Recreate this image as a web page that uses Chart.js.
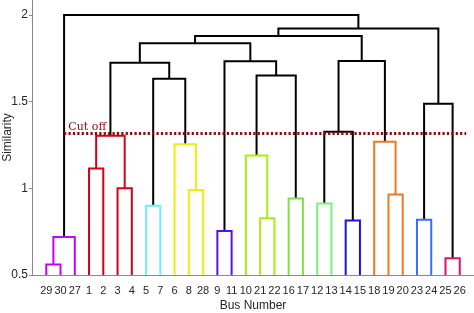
<!DOCTYPE html>
<html>
<head>
<meta charset="utf-8">
<script src="https://cdn.jsdelivr.net/npm/chart.js@4.4.1/dist/chart.umd.min.js"></script>
<style>
  body { margin: 0; background: #fff; }
  #wrap { width: 474px; height: 313px; position: relative; }
</style>
</head>
<body>
<div id="wrap"><canvas id="myChart"></canvas></div>
<script>
//================================data========================================
// leaf order along the x axis (bus numbers)
const busOrder = [29, 30, 27, 1, 2, 3, 4, 5, 7, 6, 8, 28, 9, 11, 10, 21, 22, 16, 17, 12, 13, 14, 15, 18, 19, 20, 23, 24, 25, 26];

// linkage rows: ids 1-30 are buses, id 31 is row 0, id 32 is row 1 ...
const mergeLeft   = [29, 31,    1,    3,  33,   5,    8,     6,  36,   35,   9,   21,  10,   16,  43,   41,  40,   12,   14,  48,   19,  18,   50,  47,   23,   25,  55,   54,  32];
const mergeRight  = [30, 27,    2,    4,  34,   7,   28,    37,  38,   39,  11,   22,  42,   17,  44,   45,  46,   13,   15,  49,   20,  51,   52,  53,   24,   26,  56,   57,  58];
const mergeHeight = [0.56, 0.72, 1.115, 1.0, 1.303, 0.9, 0.99, 1.254, 1.632, 1.725, 0.754, 0.827, 1.19, 0.942, 1.652, 1.733, 1.837, 0.913, 0.815, 1.326, 0.965, 1.269, 1.735, 1.879, 0.819, 0.596, 1.488, 1.922, 2.0];

const cutoff = 1.316;
const cutoffFrom = 2.25;
const cutoffTo = 30.45;
const cutoffText = 'Cut off';

const yTicks = [0.5, 1, 1.5, 2];
const yMin = 0.5;
const yMax = 2.087;

// cluster colours, left to right
const clusterColors = ['#c400ff', '#d3001a', '#70f0f0', '#eeee10', '#5a10e8', '#a8ee10', '#80e040', '#80ee80', '#1a10ee', '#ee7a20', '#3c6cff', '#e0106e'];

//================================tree========================================
const nLeaf = busOrder.length;
const parent = {};
mergeLeft.forEach((a, i) => { parent[a] = nLeaf + 1 + i; parent[mergeRight[i]] = nLeaf + 1 + i; });

function nodeX(id) {
    if (id <= nLeaf) return busOrder.indexOf(id) + 1;
    let r = id - nLeaf - 1;
    return (nodeX(mergeLeft[r]) + nodeX(mergeRight[r])) / 2;
}
function nodeH(id) {
    if (id <= nLeaf) return yMin;
    return mergeHeight[id - nLeaf - 1];
}

// cluster roots: below cutoff, parent above it
let roots = [];
for (let r = 0; r < mergeHeight.length; r++) {
    let id = nLeaf + 1 + r;
    if (mergeHeight[r] < cutoff && (!parent[id] || nodeH(parent[id]) >= cutoff)) roots.push(id);
}
roots.sort((a, b) => nodeX(a) - nodeX(b));

function linkColor(r) {
    if (mergeHeight[r] >= cutoff) return '#000000';
    let id = nLeaf + 1 + r;
    while (parent[id] && nodeH(parent[id]) < cutoff) id = parent[id];
    return clusterColors[roots.indexOf(id)];
}

let datasets = [{
    data: [{x: cutoffFrom, y: cutoff}, {x: cutoffTo, y: cutoff}],
    borderColor: '#8b0a0a',
    borderWidth: 3,
    borderDash: [2.2, 2.2],
    pointRadius: 0
}];

for (let r = 0; r < mergeHeight.length; r++) {
    let a = mergeLeft[r], b = mergeRight[r], h = mergeHeight[r];
    datasets.push({
        data: [
            {x: nodeX(a), y: nodeH(a)},
            {x: nodeX(a), y: h},
            {x: nodeX(b), y: h},
            {x: nodeX(b), y: nodeH(b)}
        ],
        borderColor: linkColor(r),
        borderWidth: 2,
        pointRadius: 0,
        tension: 0
    });
}

//================================chart========================================
const cutLabel = {
    id: 'cutLabel',
    afterDatasetsDraw(chart) {
        const c = chart.ctx;
        c.save();
        c.font = '11px "DejaVu Serif"';
        c.fillStyle = '#8b0a0a';
        c.textAlign = 'left';
        c.textBaseline = 'alphabetic';
        c.fillText(cutoffText, chart.scales.x.getPixelForValue(2.55), chart.scales.y.getPixelForValue(cutoff) - 4);
        c.restore();
    }
};

const ctx = document.getElementById('myChart');
new Chart(ctx, {
    type: 'line',
    data: { datasets: datasets },
    options: {
        responsive: true,
        maintainAspectRatio: false,
        animation: false,
        layout: { padding: 0 },
        plugins: { legend: { display: false }, tooltip: { enabled: false } },
        scales: {
            x: {
                type: 'linear',
                min: 0,
                max: nLeaf + 1,
                afterBuildTicks: (s) => { s.ticks = busOrder.map((b, i) => ({value: i + 1})); },
                afterFit: (s) => { s.height = 38; s.paddingLeft = 0; s.paddingRight = 0; },
                ticks: {
                    autoSkip: false,
                    maxRotation: 0,
                    padding: 1,
                    color: '#262626',
                    font: { family: 'Liberation Sans', size: 11 },
                    callback: (v) => String(busOrder[v - 1])
                },
                grid: { display: false },
                border: { display: true, color: '#8a8a8a', width: 1 },
                title: {
                    display: true,
                    text: 'Bus Number',
                    color: '#262626',
                    font: { family: 'Liberation Sans', size: 12 },
                    padding: { top: 0, bottom: 0 }
                }
            },
            y: {
                type: 'linear',
                min: yMin,
                max: yMax,
                afterBuildTicks: (s) => { s.ticks = yTicks.map(v => ({value: v})); },
                afterFit: (s) => { s.width = 32; s.paddingTop = 0; s.paddingBottom = 0; },
                ticks: {
                    padding: 1,
                    color: '#262626',
                    font: { family: 'Liberation Sans', size: 12 },
                    callback: (v) => String(v)
                },
                grid: { drawOnChartArea: false, drawTicks: true, tickLength: 3, color: '#8a8a8a' },
                border: { display: true, color: '#8a8a8a', width: 1 },
                title: {
                    display: true,
                    text: 'Similarity',
                    color: '#262626',
                    font: { family: 'Liberation Sans', size: 12 },
                    padding: { top: 0, bottom: 0 }
                }
            }
        }
    },
    plugins: [cutLabel]
});
</script>
</body>
</html>
